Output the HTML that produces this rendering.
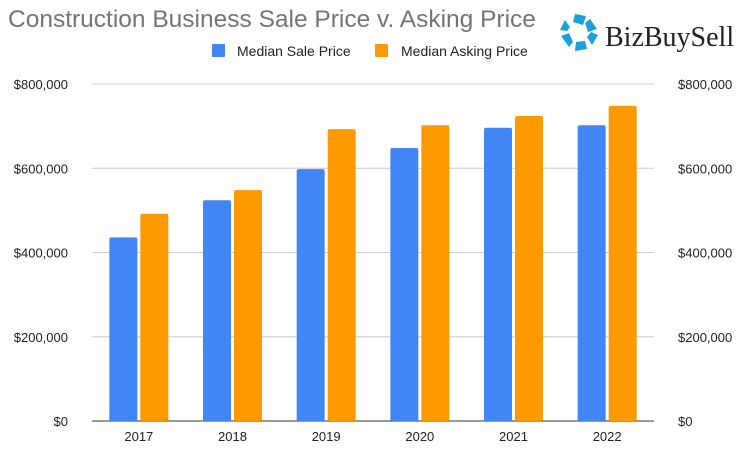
<!DOCTYPE html>
<html><head><meta charset="utf-8"><style>
body{margin:0;background:#fff;width:750px;height:452px;overflow:hidden;font-family:"Liberation Sans",Arial,sans-serif}
svg{display:block}
</style></head><body>
<svg id="chart" width="750" height="452" xmlns="http://www.w3.org/2000/svg">
<text x="8" y="27" font-size="24.5" fill="#757575" font-family="Liberation Sans, sans-serif">Construction Business Sale Price v. Asking Price</text>
<g>
<g fill="#1aa1dc" transform="translate(579,33)">
<polygon points="-4,-19 7,-17 4,-8 -6,-11"/>
<polygon points="11,-14 18,-4 9,-1 6,-10"/>
<polygon points="19,2 13,12 8,4 12,-1"/>
<polygon points="8,16 -4,18 -3,9 6,8"/>
<polygon points="-10,14 -18,3 -10,0 -6,9"/>
<polygon points="-19,-3 -14,-13 -9,-6 -12,-2"/>
</g>
<text x="605" y="46" font-size="28" fill="#222" font-family="Liberation Serif, serif">BizBuySell</text>
</g>
<g id="legend" font-size="14" fill="#222">
<rect x="212" y="44" width="13" height="13" fill="#4285f4" rx="1"/><text x="237" y="56">Median Sale Price</text>
<rect x="375" y="44" width="13" height="13" fill="#ff9900" rx="1"/><text x="401" y="56">Median Asking Price</text>
</g>
<g id="grid"></g><g id="bars"></g><g id="axes" font-size="13" fill="#222"></g>
</svg>
<script>
const categories=["2017","2018","2019","2020","2021","2022"];
const saleValues=[436000,524000,598000,648000,696000,702000];
const askingValues=[492000,548000,693000,702000,724000,748000];
const yTicks=[0,200000,400000,600000,800000];
const yTickLabels=["$0","$200,000","$400,000","$600,000","$800,000"];
const NS="http://www.w3.org/2000/svg";
const x0=92,x1=654,y0=421,y1=84,yMax=800000;
const band=(x1-x0)/categories.length;
const yS=v=>y0-(v/yMax)*(y0-y1);
const xC=i=>x0+band*(i+0.5);
function mk(t,a,p){const e=document.createElementNS(NS,t);for(const k in a)e.setAttribute(k,a[k]);p.appendChild(e);return e;}
const grid=document.getElementById('grid'),bars=document.getElementById('bars'),axes=document.getElementById('axes');
yTicks.forEach((v,i)=>{
 const l=mk('line',{x1:x0,x2:x1,y1:yS(v),y2:yS(v),stroke:i==0?'#333':'#ccc','stroke-width':1},grid);
 
 
 const tl=mk('text',{x:68,y:yS(v)+5,'text-anchor':'end'},axes);tl.textContent=yTickLabels[i];
 
 
 const tr=mk('text',{x:678,y:yS(v)+5},axes);tr.textContent=yTickLabels[i];
 
 
});
const bw=28,gap=3;
categories.forEach((c,i)=>{
 const cx=xC(i);
 const b1=mk('rect',{x:cx-gap/2-bw,y:yS(saleValues[i]),width:bw,height:y0-yS(saleValues[i]),fill:'#4285f4',rx:2},bars);
 
 
 const b2=mk('rect',{x:cx+gap/2,y:yS(askingValues[i]),width:bw,height:y0-yS(askingValues[i]),fill:'#ff9900',rx:2},bars);
 
 
 const t=mk('text',{x:cx,y:441,'text-anchor':'middle'},axes);t.textContent=c;
 
 
});
</script>
</body></html>
